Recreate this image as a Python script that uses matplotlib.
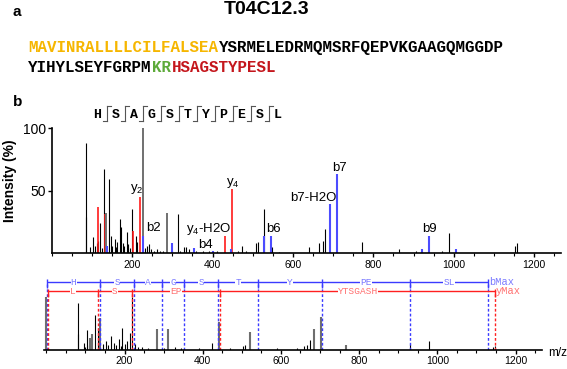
import matplotlib.pyplot as plt
from matplotlib.ticker import MultipleLocator

plt.rcParams['font.family'] = ['Liberation Sans', 'DejaVu Sans']
plt.rcParams['mathtext.default'] = 'regular'

# ---- sequence (panel a) ----
title = "T04C12.3"
seq_parts_1 = [("MAVINRALLLLCILFALSEA", "#F6B600"),
               ("YSRMELEDRMQMSRFQEPVKGAAGQMGGDP", "black")]
seq_parts_2 = [("YIHYLSEYFGRPM", "black"), ("KR", "#5DAA3A"),
               ("HSAGSTYPESL", "#C4161C")]
peptide = "HSAGSTYPESL"

# ---- top spectrum (m/z, intensity %) ----
black_mz = [84, 86, 95, 102, 108, 112, 116, 121, 125, 130, 143, 147, 150, 157,
            160, 163, 170, 172, 176, 180, 186, 190, 195, 200, 209, 213, 232,
            236, 243, 247, 255, 262, 270, 276, 300, 313, 320, 328, 335, 342,
            360, 375, 392, 410, 463, 474, 484, 509, 513, 529, 549, 565, 640,
            664, 674, 680, 772, 864, 905, 970, 988, 1153, 1158]
black_int = [29, 88, 5, 13, 6, 8, 10, 24, 4, 67, 59, 14, 6, 11,
             5, 9, 27, 21, 8, 6, 17, 7, 4, 35, 14, 9, 4,
             6, 7, 3, 2, 3, 2, 2, 2, 31, 2, 5, 5, 3,
             2, 1.5, 1.5, 1.5, 2, 6, 1.5, 8, 9, 35, 5, 1, 5,
             8, 10, 19, 9, 3, 2, 2, 16, 6, 8]
grey_mz = [134, 228, 287]
grey_int = [32, 100, 32]
red_mz = [114, 132, 202, 220, 430, 449]
red_int = [37, 31, 18, 45, 14, 51]
blue_mz = [138, 228, 298, 354, 401, 446, 527, 546, 691, 709, 921, 938, 1006]
blue_int = [6, 14, 8, 4, 2, 3, 14, 14, 39, 63, 3, 14, 3]

ann_text = ["y$_2$", "b2", "y$_4$-H2O", "b4", "y$_4$", "b6", "b7-H2O", "b7", "b9"]
ann_mz = [212, 252, 391, 382, 451, 551, 652, 715, 940]
ann_y = [51, 20, 19, 6.5, 56, 19, 44, 68, 19]

# ---- bottom spectrum (m/z, relative %) ----
bot_black_mz = [80, 82, 96, 100, 104, 110, 125, 133, 145, 152, 158, 165, 172,
                178, 185, 190, 194, 200, 207, 215, 220, 228, 235, 245, 260,
                300, 330, 345, 390, 424, 470, 504, 507, 590, 640, 658, 666,
                675, 930, 980, 1142, 1148]
bot_black_int = [30, 88, 12, 5, 37, 8, 65, 40, 10, 17, 8, 25, 12,
                 9, 19, 6, 40, 10, 16, 31, 100, 10, 5, 4, 3,
                 3, 5, 3, 2, 13, 3, 7, 8, 2, 3, 7, 8,
                 18, 10, 16, 4, 6]
bot_grey_mz = [0, 112, 118, 137, 283, 311, 442, 521, 684, 702, 766]
bot_grey_int = [100, 22, 29, 60, 38, 38, 52, 33, 38, 62, 9]

b_pos = [1.0, 138.1, 225.1, 296.1, 353.2, 440.2, 541.2, 704.3, 930.4, 1130.5]
b_lab = ["H", "S", "A", "G", "S", "T", "Y", "PE", "SL"]
y_pos = [5.0, 132.1, 219.1, 445.2, 1148.5]
y_lab = ["L", "S", "EP", "YTSGASH"]

W, H = 567, 369
fig = plt.figure(figsize=(W / 100, H / 100), dpi=100)

# overlay in pixel coordinates for the text parts
ov = fig.add_axes([0, 0, 1, 1])
ov.set_xlim(0, W)
ov.set_ylim(H, 0)
ov.axis('off')

ov.text(17, 12, "a", fontsize=11, fontweight='bold', va='center', ha='center')
ov.text(18, 102, "b", fontsize=11, fontweight='bold', va='center', ha='center')
ov.text(267, 10, title, fontsize=14, fontweight='bold', va='center', ha='center')

cw = 9.54
for parts, yy in [(seq_parts_1, 47.5), (seq_parts_2, 67)]:
    x = 28.3
    for s, c in parts:
        ov.text(x, yy, s, color=c, fontsize=11.4, fontweight='bold',
                family='Liberation Mono', va='center', ha='left')
        x += cw * len(s)

# peptide header with fragment markers
px0, pstep, py = 97.5, 18.0, 115
for i, aa in enumerate(peptide):
    ov.text(px0 + i * pstep, py, aa, fontsize=9.5, fontweight='bold',
            family='Liberation Mono', ha='center', va='center')
    if i < len(peptide) - 1:
        xs = px0 + (i + 0.5) * pstep
        ov.plot([xs, xs], [106, 121], color='#555555', lw=0.8)
        ov.plot([xs, xs + 4], [106, 106], color='#555555', lw=0.8)
        ov.plot([xs - 4, xs], [121, 121], color='#555555', lw=0.8)

ov.text(548, 353, "m/z", fontsize=8.5, ha='left', va='center')

# ---- top axes ----
ax = fig.add_axes([51.8 / W, (H - 253) / H, 509.2 / W, 125 / H])
ax.vlines(black_mz, 0, black_int, color='black', lw=0.8)
ax.vlines(red_mz, 0, red_int, color='#FF1A1A', lw=1.2)
ax.vlines(grey_mz, 0, grey_int, color='#707070', lw=1.4)
ax.vlines(blue_mz, 0, blue_int, color='#4C4CFF', lw=1.5)
for t, m, yv in zip(ann_text, ann_mz, ann_y):
    ax.text(m, yv, t, fontsize=9.5, ha='center', va='center')
ax.set_xlim(0, 1267)
ax.set_ylim(0, 100)
ax.set_yticks([50, 100])
ax.xaxis.set_minor_locator(MultipleLocator(50))
ax.set_xticks([200, 400, 600, 800, 1000, 1200])
for s in ['top', 'right']:
    ax.spines[s].set_visible(False)
ax.spines['left'].set_linewidth(1.2)
ax.spines['bottom'].set_linewidth(1.2)
ax.tick_params(axis='x', labelsize=7.5, length=3, width=1, pad=2)
ax.tick_params(axis='x', which='minor', length=2, width=0.8)
ax.tick_params(axis='y', labelsize=10, length=3, width=1, pad=1)
ax.set_ylabel("Intensity (%)", fontsize=10, fontweight='bold')
ax.yaxis.set_label_coords(-0.068, 0.58)

# ---- bottom axes ----
bx = fig.add_axes([44 / W, (H - 349.5) / H, 497.7 / W, 79.5 / H])
bx.vlines(bot_black_mz, 0, bot_black_int, color='black', lw=0.8)
bx.vlines(bot_grey_mz, 0, bot_grey_int, color='#6E6E6E', lw=1.5)

blue_c, blue_l = '#3B3BFF', '#7A7AFF'
red_c, red_l = '#FF2020', '#FF7070'
yb, yr = 127, 110
bx.hlines(yb, b_pos[0], b_pos[-1], color=blue_c, lw=1.0)
bx.vlines(b_pos, 117, 134, color=blue_c, lw=1.0)
bx.vlines(b_pos, 0, yb, color=blue_c, lw=1.0, linestyles=(0, (2, 1.5)))
bx.hlines(yr, y_pos[0], y_pos[-1], color=red_c, lw=1.0)
bx.vlines(y_pos, 100, 115, color=red_c, lw=1.0)
bx.vlines(y_pos, 0, yr, color=red_c, lw=1.0, linestyles=(0, (2, 1.5)))
for i, lab in enumerate(b_lab):
    bx.text((b_pos[i] + b_pos[i + 1]) / 2, yb, lab, color=blue_l, fontsize=6.8,
            family='Liberation Mono', ha='center', va='center',
            bbox=dict(facecolor='white', edgecolor='none', pad=0.1))
for i, lab in enumerate(y_lab):
    bx.text((y_pos[i] + y_pos[i + 1]) / 2, yr, lab, color=red_l, fontsize=6.8,
            family='Liberation Mono', ha='center', va='center',
            bbox=dict(facecolor='white', edgecolor='none', pad=0.1))
bx.text(b_pos[-1] + 2, yb, "bMax", color=blue_l, fontsize=7.5,
        family='Liberation Mono', ha='left', va='center')
bx.text(y_pos[-1] + 2, yr, "yMax", color=red_l, fontsize=7.5,
        family='Liberation Mono', ha='left', va='center')

bx.set_xlim(-6, 1267)
bx.set_ylim(0, 150.6)
bx.set_yticks([])
bx.xaxis.set_minor_locator(MultipleLocator(50))
bx.set_xticks([200, 400, 600, 800, 1000, 1200])
for s in ['top', 'right', 'left']:
    bx.spines[s].set_visible(False)
bx.spines['bottom'].set_linewidth(1.2)
bx.tick_params(axis='x', labelsize=7.5, length=3, width=1, pad=2)
bx.tick_params(axis='x', which='minor', length=2, width=0.8)
bx.patch.set_alpha(0)
ax.patch.set_alpha(0)

fig.savefig("out.png", dpi=100)
